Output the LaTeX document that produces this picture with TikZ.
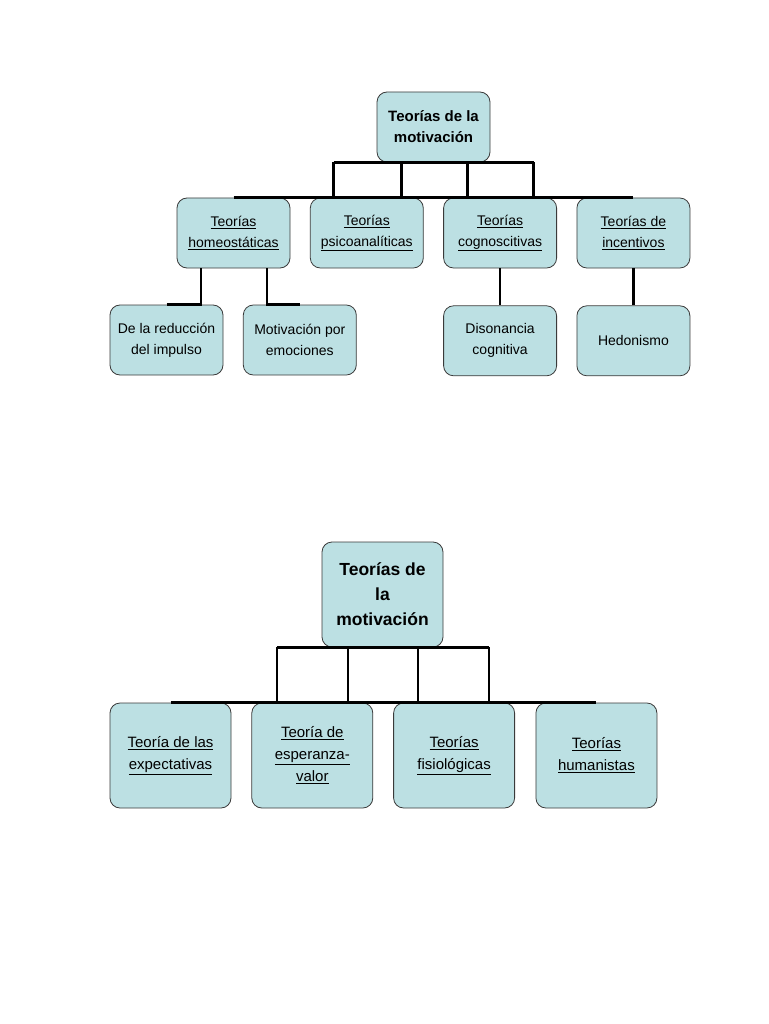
\documentclass[tikz,border=0pt]{standalone}
\usepackage{fontspec}
\setmainfont{Liberation Sans}
\usetikzlibrary{positioning}
\definecolor{boxfill}{HTML}{BCE0E3}
\definecolor{boxline}{HTML}{3A3A3A}

\begin{document}
\begin{tikzpicture}[
  x=1pt,y=-1pt,
  node distance=19.5pt and 19.5pt,
  every node/.style={align=center,rounded corners=10pt,font=\fontsize{14}{21}\selectfont},
  tbox/.style={draw=boxline,fill=boxfill,line width=0.8pt,minimum width=113pt,minimum height=70pt,inner sep=1pt},
  bbox/.style={draw=boxline,fill=boxfill,line width=0.8pt,minimum width=121pt,minimum height=105pt,inner sep=1pt,font=\fontsize{15}{22}\selectfont},
  conn/.style={line width=2.4pt,black}
]
\useasboundingbox (0,0) rectangle (768,1024);
% upper chart
\node[tbox,font=\bfseries\fontsize{15}{21}\selectfont] (root) at (433.5,127) {Teorías de la\\motivación};
\node[tbox] (homeo) at (233.5,233) {\underline{Teorías}\\\underline{homeostáticas}};
\node[tbox,right=of homeo] (psico) {\underline{Teorías}\\\underline{psicoanalíticas}};
\node[tbox,right=of psico] (cogn) {\underline{Teorías}\\\underline{cognoscitivas}};
\node[tbox,right=of cogn] (incent) {\underline{Teorías de}\\\underline{incentivos}};
\node[tbox] (reduc) at (166.5,340) {De la reducción\\del impulso};
\node[tbox,right=of reduc] (emoc) {Motivación por\\emociones};
\node[tbox,below=37pt of cogn] (disonan) {Disonancia\\cognitiva};
\node[tbox,below=37pt of incent] (hedon) {Hedonismo};
\coordinate (a1) at ([xshift=-100pt]root.south);
\coordinate (a2) at ([xshift=-32pt]root.south);
\coordinate (a3) at ([xshift=34pt]root.south);
\coordinate (a4) at ([xshift=100pt]root.south);
\draw[conn] (a1) -- (a4);
\foreach \c in {a1,a2,a3,a4}
  \draw[conn] (\c) -- (\c |- homeo.north);
\draw[conn] (homeo.north) -- (incent.north);
\coordinate (h1) at ([xshift=-32.5pt]homeo.south);
\coordinate (h2) at ([xshift=33.5pt]homeo.south);
\draw[conn] (reduc.north) -| (h1);
\draw[conn] (emoc.north) -| (h2);
\draw[conn] (cogn.south) -- (disonan.north);
\draw[conn] (incent.south) -- (hedon.north);
% lower chart
\node[bbox,font=\bfseries\fontsize{17.5}{25}\selectfont] (root2) at (382.5,594.5) {Teorías de\\la\\motivación};
\node[bbox] (expect) at (170.5,755.5) {\underline{Teoría de las}\\\underline{expectativas}};
\node[bbox,right=20pt of expect] (esper) {\underline{Teoría de}\\\underline{esperanza-}\\\underline{valor}};
\node[bbox,right=20pt of esper] (fisio) {\underline{Teorías}\\\underline{fisiológicas}};
\node[bbox,right=20.5pt of fisio] (human) {\underline{Teorías}\\\underline{humanistas}};
\coordinate (c1) at ([xshift=-105.5pt]root2.south);
\coordinate (c2) at ([xshift=-34.5pt]root2.south);
\coordinate (c3) at ([xshift=35.5pt]root2.south);
\coordinate (c4) at ([xshift=106.5pt]root2.south);
\draw[conn] (c1) -- (c4);
\foreach \c in {c1,c2,c3,c4}
  \draw[conn] (\c) -- (\c |- expect.north);
\draw[conn] (expect.north) -- (human.north);
\end{tikzpicture}
\end{document}
